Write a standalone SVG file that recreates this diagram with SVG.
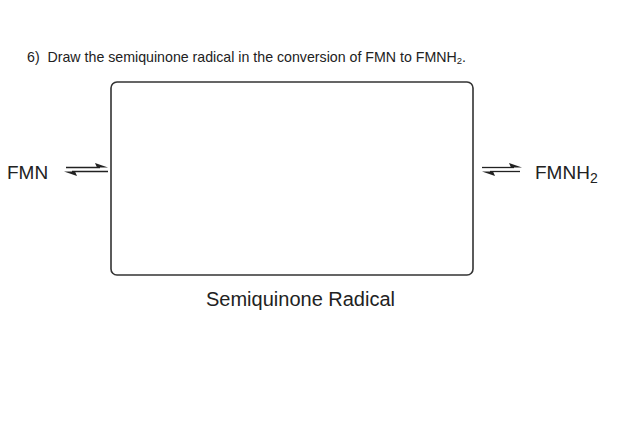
<svg xmlns="http://www.w3.org/2000/svg" width="635" height="437" viewBox="0 0 635 437">
<style>
text{font-family:"Liberation Sans",Arial,sans-serif;fill:#222}
.l{stroke:#222;stroke-width:1.3;fill:none}
.h{fill:#222;stroke:none}
</style>
<rect width="635" height="437" fill="#fff"/>
<text x="27" y="62" font-size="14.2" xml:space="preserve">6)  Draw the semiquinone radical in the conversion of FMN to FMNH<tspan font-size="9.5" dy="2">2</tspan><tspan dy="-2">.</tspan></text>
<g id="box"><rect x="111" y="82" width="362" height="193" rx="6" fill="none" stroke="#333" stroke-width="1.6"/></g>
<g id="fmn"><text x="7" y="179" font-size="19">FMN</text></g>
<g id="fmnh2"><text x="535" y="179" font-size="19">FMNH<tspan font-size="14" dy="4">2</tspan></text></g>
<g id="label"><text x="206" y="306" font-size="20">Semiquinone Radical</text></g>
<g id="connectors">
<line class="l" x1="66" y1="167.5" x2="100" y2="167.5"/>
<polygon class="h" points="108,167.5 95,163 97,167.5"/>
<line class="l" x1="72" y1="171.5" x2="108" y2="171.5"/>
<polygon class="h" points="64,171.5 77,176 75,171.5"/>
<line class="l" x1="482" y1="167.5" x2="514" y2="167.5"/>
<polygon class="h" points="522,167.5 509,163 511,167.5"/>
<line class="l" x1="490" y1="171.5" x2="520" y2="171.5"/>
<polygon class="h" points="482,171.5 495,176 493,171.5"/>
</g>
</svg>
